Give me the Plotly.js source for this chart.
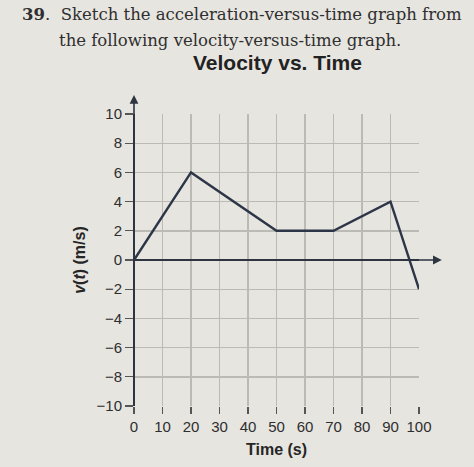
<!DOCTYPE html>
<html>
<head>
<meta charset="utf-8">
<script src="https://cdn.plot.ly/plotly-3.0.1.min.js"></script>
<style>
html,body{margin:0;padding:0;background:#e7e5e0;}
#chart{width:474px;height:467px;}
</style>
</head>
<body>
<div id="chart"></div>
<script>
// Data
const timeS = [0, 20, 50, 70, 90, 100];
const velocity = [0, 6, 2, 2, 4, -2];
const xTickVals = [0, 10, 20, 30, 40, 50, 60, 70, 80, 90, 100];
const yTickVals = [-10, -8, -6, -4, -2, 0, 2, 4, 6, 8, 10];
const yTickText = ['\u221210', '\u22128', '\u22126', '\u22124', '\u22122', '0', '2', '4', '6', '8', '10'];

const ink = '#2e3440';
const grid = '#bcbab5';
const bg = '#e7e5e0';

const trace = {
  x: timeS, y: velocity, type: 'scatter', mode: 'lines',
  line: {color: '#2c3647', width: 2.4},
  hoverinfo: 'skip', cliponaxis: false
};

const layout = {
  width: 474, height: 467,
  paper_bgcolor: bg, plot_bgcolor: bg,
  margin: {l: 134, r: 55, t: 114, b: 61},
  showlegend: false,
  font: {family: 'Liberation Sans, Arial, sans-serif', color: '#2e2e2e', size: 13},
  xaxis: {
    range: [0, 100], tickvals: xTickVals, ticktext: xTickVals.map(String),
    showgrid: true, gridcolor: grid, gridwidth: 1.4,
    zeroline: true, zerolinecolor: ink, zerolinewidth: 1.8,
    showline: false, ticks: 'outside', ticklen: 7, tickcolor: '#555555', tickwidth: 1.3,
    tickfont: {size: 15, color: '#2e2e2e'}, fixedrange: true,
    title: {text: '<b>Time (s)</b>', font: {size: 16, color: '#262626'}, standoff: 9}
  },
  yaxis: {
    range: [-10, 10], tickvals: yTickVals, ticktext: yTickText,
    showgrid: true, gridcolor: grid, gridwidth: 1.4,
    zeroline: true, zerolinecolor: ink, zerolinewidth: 1.8,
    showline: false, ticks: 'outside', ticklen: 8, tickcolor: '#555555', tickwidth: 1.3,
    tickfont: {size: 15, color: '#2e2e2e'}, fixedrange: true,
    title: {text: '<b><i>v</i>(<i>t</i>) (m/s)</b>', font: {size: 16, color: '#262626'}, standoff: 6}
  },
  annotations: [
    {xref: 'paper', yref: 'y', x: 1.08, y: 0, ax: -40, ay: 0, axref: 'pixel', ayref: 'pixel',
     showarrow: true, arrowhead: 2, arrowsize: 1.1, arrowwidth: 1.6, arrowcolor: ink, text: ''},
    {xref: 'x', yref: 'paper', x: 0, y: 1.065, ax: 0, ay: 30,
     showarrow: true, arrowhead: 2, arrowsize: 1.1, arrowwidth: 1.6, arrowcolor: ink, text: ''},
    {xref: 'paper', yref: 'paper', x: -0.40, y: 1.342, xanchor: 'left', yanchor: 'middle', showarrow: false,
     text: '<b>39</b>.  Sketch the acceleration-versus-time graph from',
     font: {family: 'DejaVu Serif, serif', size: 16.5, color: '#2f2f2f'}},
    {xref: 'paper', yref: 'paper', x: -0.27, y: 1.253, xanchor: 'left', yanchor: 'middle', showarrow: false,
     text: 'the following velocity-versus-time graph.',
     font: {family: 'DejaVu Serif, serif', size: 16.5, color: '#2f2f2f'}},
    {xref: 'paper', yref: 'paper', x: 0.505, y: 1.178, xanchor: 'center', yanchor: 'middle', showarrow: false,
     text: '<b>Velocity vs. Time</b>',
     font: {family: 'Liberation Sans, Arial, sans-serif', size: 21, color: '#222222'}}
  ]
};

Plotly.newPlot('chart', [trace], layout, {displayModeBar: false, staticPlot: true});
</script>
</body>
</html>
